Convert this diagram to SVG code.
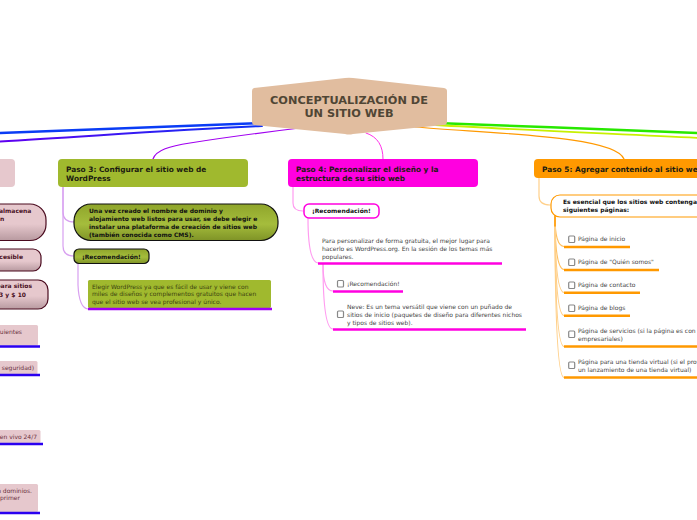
<svg xmlns="http://www.w3.org/2000/svg" width="697" height="520" viewBox="0 0 697 520">
<defs>
<linearGradient id="gOl" x1="0" y1="0" x2="0" y2="1"><stop offset="0" stop-color="#8fa52b"/><stop offset="0.55" stop-color="#a5bd3c"/><stop offset="1" stop-color="#7f9327"/></linearGradient>
<linearGradient id="gPk" x1="0" y1="0" x2="0" y2="1"><stop offset="0" stop-color="#e6c8cd"/><stop offset="0.55" stop-color="#e6c8cd"/><stop offset="1" stop-color="#b89aa0"/></linearGradient>
<linearGradient id="gBV" gradientUnits="userSpaceOnUse" x1="0" y1="0" x2="250" y2="0"><stop offset="0" stop-color="#6000f0"/><stop offset="1" stop-color="#1030f5"/></linearGradient>
</defs>
<style>
text{font-family:"DejaVu Sans","Liberation Sans",sans-serif}
.h{font-size:7.4px;font-weight:bold;fill:#1c1c10}
.b{font-size:6px;font-weight:bold;fill:#111}
.m{font-size:6px;font-weight:bold;fill:#4a0f1e}
.t{font-size:6px;fill:#444}
.o{font-size:6px;fill:#3d4410}
.r{font-size:6px;fill:#6a3040;text-anchor:end}
.c{fill:#fff;stroke:#888;stroke-width:1.200}
.bl{stroke:#2a00f0;stroke-width:2.500;fill:none}
.pk{stroke:#ff00e0;stroke-width:2.500;fill:none}
.or{stroke:#ff9900;stroke-width:2.500;fill:none}
</style>
<g id="connectors" fill="none" stroke-linecap="round">
<path d="M262 123C170 126 80 130 -2 133" stroke="#0a3cf5" stroke-width="2.500"/>
<path d="M262 126C170 130 80 137 -2 141.500" stroke="url(#gBV)" stroke-width="2"/>
<path d="M300 128C250 134 215 139 190 143C170 146 156 150 153 159" stroke="#a000f0" stroke-width="1.200"/>
<path d="M366 133C378 137 383 146 383 159" stroke="#ff30e8" stroke-width="1"/>
<path d="M436 123C520 126 620 130 699 133" stroke="#28e800" stroke-width="2.500"/>
<path d="M436 125C520 130 620 134 699 138" stroke="#c8f000" stroke-width="1.800"/>
<path d="M415 127C500 134 615 136 624 159" stroke="#ff9900" stroke-width="1.200"/>
<path d="M63 187V212Q63 222 74 222" stroke="#d8a0f0" stroke-width="1.200"/>
<path d="M63 187V246Q63 256 74 256" stroke="#d8a0f0" stroke-width="1.200"/>
<path d="M78 264V285Q79 308 88 309" stroke="#d8a0f0" stroke-width="1.200"/>
<path d="M293 187V203Q293 211 303 211" stroke="#ff9cf0" stroke-width="1.200"/>
<path d="M308 218C308 240 310 262 318 263" stroke="#ff9cf0" stroke-width="1.200"/>
<path d="M323 264C323 278 325 291 333 291" stroke="#ff9cf0" stroke-width="1.200"/>
<path d="M323 264C323 300 325 329 333 329" stroke="#ff9cf0" stroke-width="1.200"/>
<path d="M539 178V196Q539 205 550 205" stroke="#ffd08a" stroke-width="1.200"/>
<path d="M555 217C555 232 557 246 564 246.500" stroke="#ffc060" stroke-width="1.200"/>
<path d="M555 217C555 245 557 269 564 269.500" stroke="#ffc060" stroke-width="1.200"/>
<path d="M555 217C555 258 557 292 564 292.500" stroke="#ffd08a" stroke-width="1.200"/>
<path d="M555 217C555 270 557 315 564 315.500" stroke="#ffd08a" stroke-width="1.200"/>
<path d="M555 217C555 290 557 346 564 346.500" stroke="#ffd08a" stroke-width="1.200"/>
<path d="M555 217C555 310 557 377 564 377.500" stroke="#ffd08a" stroke-width="1.200"/>
<path d="M555 201V226" stroke="#ff9900" stroke-width="1.500"/>
</g>
<g id="central"><path d="M254 88L345 78Q349 77.500 353 78L444 88Q447 88.500 447 91V122Q447 124.500 444 125L353 134Q349 135 345 134L254 125Q252 124.500 252 122V91Q252 88.500 254 88Z" fill="#e1bd9f"/>
<text x="349" y="104" text-anchor="middle" font-size="11.300" font-weight="bold" fill="#504635">CONCEPTUALIZACIÓN DE</text>
<text x="349" y="117" text-anchor="middle" font-size="11.300" font-weight="bold" fill="#504635">UN SITIO WEB</text></g>
<g id="paso2"><rect x="-20" y="159" width="35" height="28" rx="4" fill="#e6c8cd"/></g>
<g id="m1"><rect x="-40" y="204" width="86" height="36.500" rx="16" fill="url(#gPk)" stroke="#4a0a1e" stroke-width="1.200"/>
<text class="m" y="213"><tspan x="-1">almacena</tspan><tspan x="0" dy="8">n</tspan></text></g>
<g id="m2"><rect x="-40" y="249" width="81" height="22" rx="8" fill="url(#gPk)" stroke="#4a0a1e" stroke-width="1.200"/>
<text class="m" x="23" y="259" text-anchor="end">ccesible</text></g>
<g id="m3"><rect x="-40" y="280" width="88" height="29" rx="10" fill="url(#gPk)" stroke="#4a0a1e" stroke-width="1.200"/>
<text class="m" text-anchor="end"><tspan x="32" y="288">para sitios</tspan><tspan x="26" y="297">3 y $ 10</tspan></text></g>
<g id="r1"><rect x="-10" y="325" width="48" height="20.500" rx="1.500" fill="#e6c8cd"/><text class="r" x="22" y="334">cuientes</text><path class="bl" d="M0 346.500H40"/></g>
<g id="r2"><rect x="-10" y="361" width="47.500" height="13.500" rx="1.500" fill="#e6c8cd"/><text class="r" x="34" y="370">seguridad)</text><path class="bl" d="M0 375H40"/></g>
<g id="r3"><rect x="-10" y="430" width="50.500" height="13" rx="1.500" fill="#e6c8cd"/><text class="r" x="37" y="439">en vivo 24/7</text><path class="bl" d="M0 444H43"/></g>
<g id="r4"><rect x="-10" y="484" width="48" height="28" rx="1.500" fill="#e6c8cd"/><text class="r"><tspan x="32" y="492.500">n dominios.</tspan><tspan x="20" y="500">primer</tspan></text><path class="bl" d="M0 513H40"/></g>
<g id="paso3"><rect x="58" y="159" width="190" height="28" rx="4" fill="#a0b92e"/>
<text class="h" y="172"><tspan x="66">Paso 3: Configurar el sitio web de</tspan><tspan x="66" dy="9">WordPress</tspan></text></g>
<g id="p3a"><rect x="74" y="204" width="204" height="36.500" rx="17" fill="url(#gOl)" stroke="#111" stroke-width="1.200"/>
<text class="b" y="213"><tspan x="89">Una vez creado el nombre de dominio y</tspan><tspan x="89" dy="8">alojamiento web listos para usar, se debe elegir e</tspan><tspan x="89" dy="7.500">instalar una plataforma de creación de sitios web</tspan><tspan x="89" dy="8">(también conocida como CMS).</tspan></text></g>
<g id="p3b"><rect x="74" y="249" width="75" height="14.500" rx="5" fill="url(#gOl)" stroke="#111" stroke-width="1.200"/>
<text class="b" x="82" y="259">¡Recomendación!</text></g>
<g id="p3c"><rect x="88" y="280" width="183" height="28" rx="1.500" fill="#a0b92e"/>
<text class="o" y="288.500"><tspan x="92">Elegir WordPress ya que es fácil de usar y viene con</tspan><tspan x="92" dy="7.700">miles de diseños y complementos gratuitos que hacen</tspan><tspan x="92" dy="7.500">que el sitio web se vea profesional y único.</tspan></text>
<path d="M88 309H272" stroke="#a000f5" stroke-width="2.500" fill="none"/></g>
<g id="paso4"><rect x="288" y="159" width="190" height="28" rx="4" fill="#ff00e0"/>
<text class="h" y="172"><tspan x="296">Paso 4: Personalizar el diseño y la</tspan><tspan x="296" dy="9">estructura de su sitio web</tspan></text></g>
<g id="p4a"><rect x="304" y="204" width="75" height="14" rx="5" fill="#fff" stroke="#ff00e0" stroke-width="1.500"/>
<text class="b" x="312" y="213">¡Recomendación!</text></g>
<g id="p4b"><text class="t" y="243"><tspan x="322">Para personalizar de forma gratuita, el mejor lugar para</tspan><tspan x="322" dy="7.500">hacerlo es WordPress.org. En la sesión de los temas más</tspan><tspan x="322" dy="8">populares.</tspan></text><path class="pk" d="M318 263.500H502"/></g>
<g id="p4c"><rect x="337.500" y="280.500" width="6" height="6.500" rx="1" class="c"/><text class="t" x="347" y="286">¡Recomendación!</text><path class="pk" d="M333 291.500H403"/></g>
<g id="p4d"><rect x="337.500" y="311" width="6" height="6.500" rx="1" class="c"/><text class="t" y="309"><tspan x="347">Neve: Es un tema versátil que viene con un puñado de</tspan><tspan x="347" dy="8">sitios de inicio (paquetes de diseño para diferentes nichos</tspan><tspan x="347" dy="7.500">y tipos de sitios web).</tspan></text><path class="pk" d="M333 329.500H526"/></g>
<g id="paso5"><rect x="534" y="159" width="190" height="19" rx="4" fill="#ff9900"/>
<text class="h" x="542" y="172">Paso 5: Agregar contenido al sitio web</text></g>
<g id="p5a"><rect x="551" y="195" width="170" height="22" rx="9" fill="#fff" stroke="#ff9900" stroke-width="1.200"/>
<text class="b" y="204"><tspan x="563">Es esencial que los sitios web contengan las</tspan><tspan x="563" dy="8">siguientes páginas:</tspan></text></g>
<g id="p5b"><rect x="568.700" y="236" width="6" height="6.500" rx="1" class="c"/><text class="t" x="578" y="241">Página de inicio</text><path class="or" d="M564 247H630"/></g>
<g id="p5c"><rect x="568.700" y="259" width="6" height="6.500" rx="1" class="c"/><text class="t" x="578" y="264">Página de "Quién somos"</text><path class="or" d="M564 270H659"/></g>
<g id="p5d"><rect x="568.700" y="282" width="6" height="6.500" rx="1" class="c"/><text class="t" x="578" y="287">Página de contacto</text><path class="or" d="M564 292.700H640"/></g>
<g id="p5e"><rect x="568.700" y="305" width="6" height="6.500" rx="1" class="c"/><text class="t" x="578" y="310">Página de blogs</text><path class="or" d="M564 315.700H630"/></g>
<g id="p5f"><rect x="568.700" y="331" width="6" height="6.500" rx="1" class="c"/><text class="t" y="333"><tspan x="578">Página de servicios (si la página es con fines</tspan><tspan x="578" dy="7.500">empresariales)</tspan></text><path class="or" d="M564 346.500H720"/></g>
<g id="p5g"><rect x="568.700" y="362" width="6" height="6.500" rx="1" class="c"/><text class="t" y="364"><tspan x="578">Página para una tienda virtual (si el proyecto es</tspan><tspan x="578" dy="7.500">un lanzamiento de una tienda virtual)</tspan></text><path class="or" d="M564 377.500H720"/></g>
</svg>
